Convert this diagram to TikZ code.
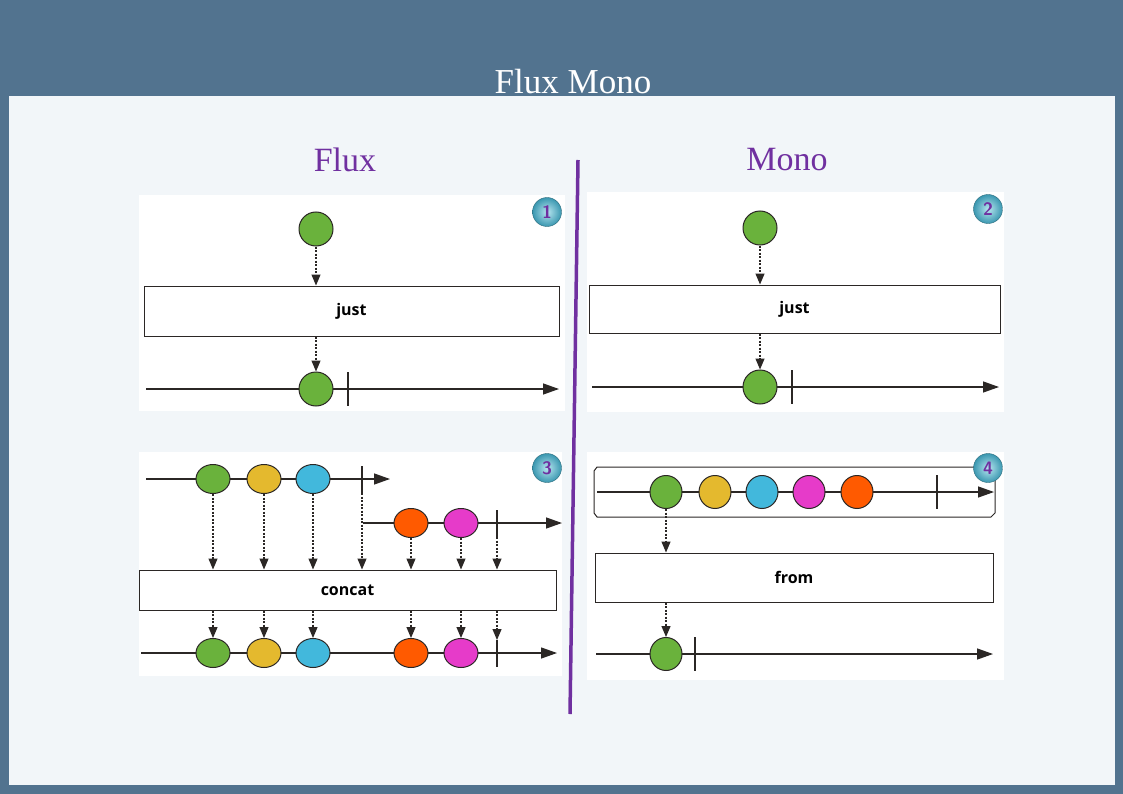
\documentclass[tikz,border=0pt]{standalone}
\usepackage{fontspec}
\setmainfont{Liberation Serif}
\newfontfamily\lbl{Open Sans}
\usetikzlibrary{arrows.meta,shapes.geometric}
\definecolor{frame}{HTML}{52738F}
\definecolor{bgc}{HTML}{F2F6F9}
\definecolor{purp}{HTML}{7030A0}
\definecolor{ink}{HTML}{2B2725}
\definecolor{cg}{HTML}{6AB23C}
\definecolor{cy}{HTML}{E4B92E}
\definecolor{cb}{HTML}{42B8DC}
\definecolor{cm}{HTML}{E63BC9}
\definecolor{co}{HTML}{FF5A00}
\definecolor{teal}{HTML}{3A97B0}
\definecolor{tealhi}{HTML}{B8E6F0}
\begin{document}
\begin{tikzpicture}[x=1pt,y=-1pt,
  tl/.style={draw=ink,line width=1.3pt,-{Triangle[length=16pt,width=11pt]}},
  dar/.style={draw=ink,line width=1.2pt,dash pattern=on 2pt off 1.5pt,-{Triangle[length=11pt,width=9pt]}},
  tick/.style={draw=ink,line width=2.6pt},
  mb/.style={ellipse,draw=ink,line width=1pt,minimum width=34pt,minimum height=34pt,inner sep=0pt,fill=#1},
  mbs/.style={ellipse,draw=ink,line width=1pt,minimum width=34pt,minimum height=29pt,inner sep=0pt,fill=#1},
  op/.style={draw=ink,line width=1pt,fill=white,inner sep=0pt,font=\lbl\bfseries\fontsize{16}{16}\selectfont},
  panel/.style={fill=white,draw=none},
  badge/.style={circle,minimum size=29pt,inner sep=0pt,inner color=tealhi,outer color=teal,draw=teal!70!black,line width=0.4pt,text=purp,font=\sffamily\bfseries\fontsize{18}{18}\selectfont}]
\useasboundingbox (0,0) rectangle (1123,794);
\fill[frame] (0,0) rectangle (1123,794);
\fill[bgc] (9,96) rectangle (1115,785);
\node[text=white,font=\fontsize{35}{35}\selectfont] (title) at (573,82) {Flux Mono};
\node[text=purp,font=\fontsize{34}{34}\selectfont] (flux) at (345,160) {Flux};
\node[text=purp,font=\fontsize{34}{34}\selectfont] (mono) at (787,160) {Mono};
% panels
\fill[panel] (139,195) rectangle (565,411);
\fill[panel] (587,192) rectangle (1004,412);
\fill[panel] (139,452) rectangle (562,676);
\fill[panel] (587,452) rectangle (1004,680);
\coordinate (lt) at (578,160); \coordinate (lb) at (570,714);
\draw[purp,line width=3.5pt] (lt) -- (lb);
% panel 1
\node[mb=cg] (a1) at (316,229) {};
\node[op,minimum width=415pt,minimum height=50pt] (j1) at (351.5,311) {just};
\coordinate (a1s) at (146,389); \coordinate (a1e) at (559,389);
\draw[tl] (a1s) -- (a1e);
\node[mb=cg] (a1o) at (316,389) {};
\coordinate (t1a) at (348,372); \coordinate (t1b) at (348,406);
\draw[tick] (t1a) -- (t1b);
\draw[dar] (a1) -- (a1 |- j1.north);
\draw[dar] (j1.south -| a1o) -- (a1o);
% panel 2
\node[mb=cg] (a2) at (760,228) {};
\node[op,minimum width=411pt,minimum height=48pt] (j2) at (794.5,309) {just};
\coordinate (a2s) at (592,387); \coordinate (a2e) at (999,387);
\draw[tl] (a2s) -- (a2e);
\node[mb=cg] (a2o) at (760,387) {};
\coordinate (t2a) at (792,370); \coordinate (t2b) at (792,404);
\draw[tick] (t2a) -- (t2b);
\draw[dar] (a2) -- (a2 |- j2.north);
\draw[dar] (j2.south -| a2o) -- (a2o);
% panel 3
\node[op,minimum width=417pt,minimum height=40pt] (cc) at (347.5,590) {concat};
\coordinate (s1s) at (146,479); \coordinate (s1e) at (390,479);
\draw[tl] (s1s) -- (s1e);
\coordinate (s2s) at (363,523); \coordinate (s2e) at (562,523);
\draw[tl] (s2s) -- (s2e);
\coordinate (s3s) at (141,653); \coordinate (s3e) at (557,653);
\draw[tl] (s3s) -- (s3e);
\foreach \x/\c/\n in {213/cg/g,264/cy/y,313/cb/b}{
  \node[mbs=\c] (u\n) at (\x,479) {};
  \node[mbs=\c] (d\n) at (\x,653) {};
  \draw[dar] (u\n) -- (u\n |- cc.north);
  \draw[dar] (cc.south -| u\n) -- (d\n);
}
\foreach \x/\c/\n in {411/co/o,461/cm/m}{
  \node[mbs=\c] (u\n) at (\x,523) {};
  \node[mbs=\c] (d\n) at (\x,653) {};
  \draw[dar] (u\n) -- (u\n |- cc.north);
  \draw[dar] (cc.south -| d\n) -- (d\n);
}
\coordinate (k1a) at (362,466); \coordinate (k1b) at (362,493);
\draw[tick] (k1a) -- (k1b);
\draw[dar] (k1b) -- (k1b |- cc.north);
\coordinate (k2a) at (497,510); \coordinate (k2b) at (497,537);
\draw[tick] (k2a) -- (k2b);
\draw[dar] (k2b) -- (k2b |- cc.north);
\coordinate (k3a) at (497,640); \coordinate (k3b) at (497,667);
\draw[tick] (k3a) -- (k3b);
\draw[dar] (cc.south -| k3a) -- (k3a);
% panel 4
\draw[ink,line width=1pt,fill=white] (597,467) -- (991,467) -- (995,471) -- (995,513) -- (991,517) -- (597,517) -- (594,513) -- (594,471) -- cycle;
\coordinate (f1s) at (597,492); \coordinate (f1e) at (994,492);
\draw[tl] (f1s) -- (f1e);
\foreach \x/\c/\n in {666/cg/g,715/cy/y,762/cb/b,809/cm/m,857/co/o}{
  \node[mbs=\c,minimum width=32pt,minimum height=33pt] (f\n) at (\x,492) {};
}
\coordinate (k4a) at (937,475); \coordinate (k4b) at (937,509);
\draw[tick] (k4a) -- (k4b);
\node[op,minimum width=398pt,minimum height=49pt] (fr) at (794,577.5) {from};
\draw[dar] (fg) -- (fg |- fr.north);
\coordinate (f2s) at (596,654); \coordinate (f2e) at (993,654);
\draw[tl] (f2s) -- (f2e);
\node[mbs=cg,minimum width=32pt,minimum height=33pt] (fo) at (666,654) {};
\draw[dar] (fr.south -| fo) -- (fo);
\coordinate (k5a) at (695,637); \coordinate (k5b) at (695,671);
\draw[tick] (k5a) -- (k5b);
% badges
\node[badge] (b1) at (547,212) {1};
\node[badge] (b2) at (988,209) {2};
\node[badge] (b3) at (547,468) {3};
\node[badge] (b4) at (988,468) {4};
\end{tikzpicture}
\end{document}
